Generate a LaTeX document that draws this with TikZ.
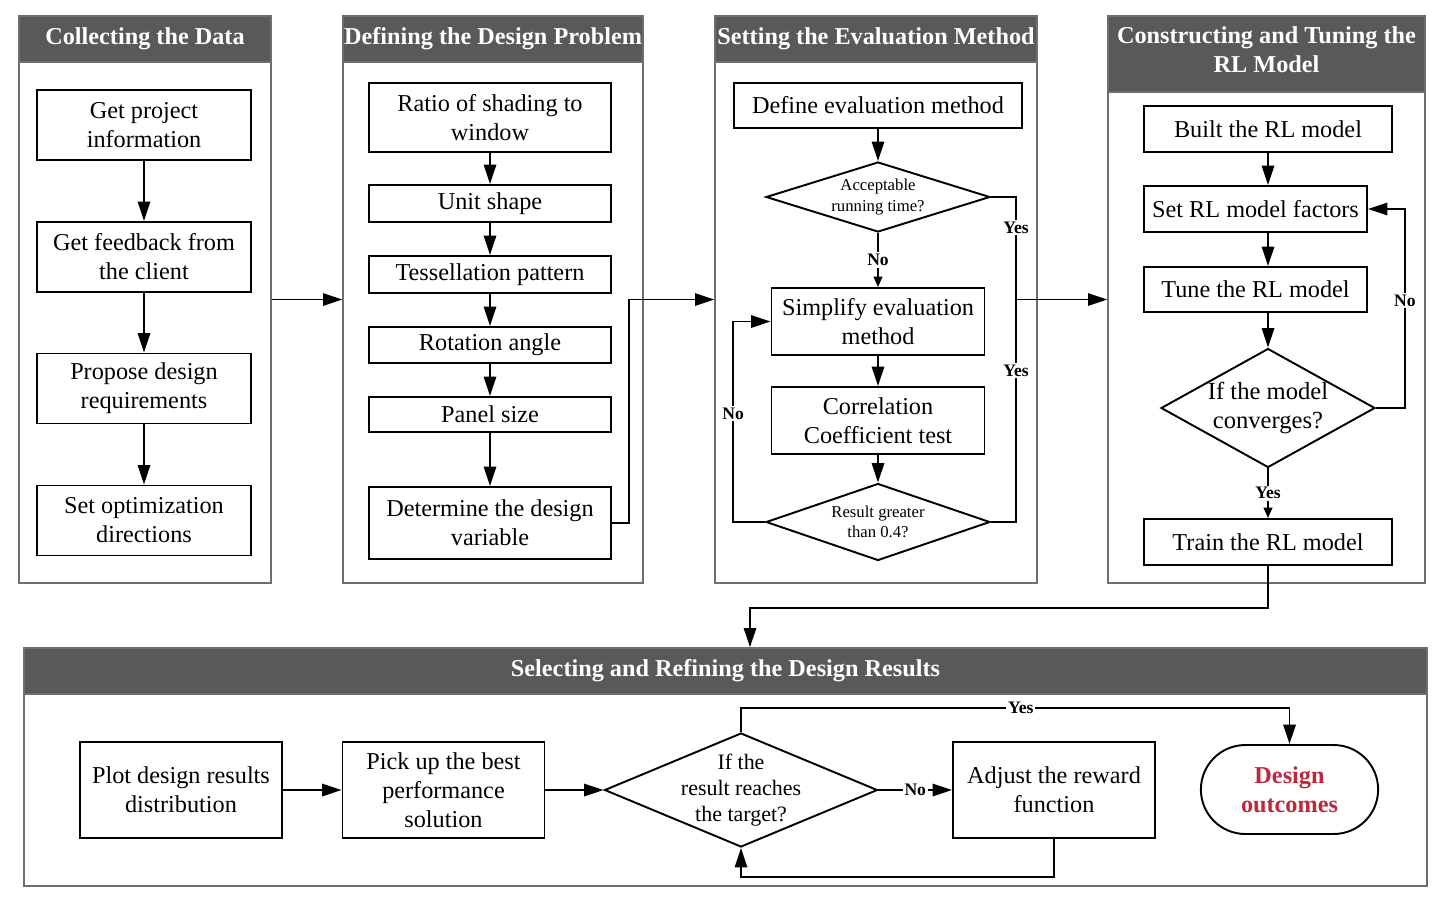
\documentclass[tikz,border=0pt]{standalone}
\usepackage{fontspec}
\setmainfont{Liberation Serif}
\usetikzlibrary{arrows.meta,shapes.geometric,shapes.misc}
\definecolor{hdgray}{RGB}{89,89,89}
\definecolor{lanegray}{RGB}{110,110,110}
\definecolor{outred}{RGB}{192,39,62}
\begin{document}
\begin{tikzpicture}[x=0.02cm, y=-0.02cm, >={Triangle[length=11pt,width=7pt]}, line width=1.1pt,
  lane/.style={draw=lanegray, line width=0.8pt, minimum height=11.34cm},
  lanehead/.style={draw=lanegray, line width=0.8pt, fill=hdgray, text=white, align=center, inner sep=0pt, font=\fontsize{13.8}{16.2}\selectfont\bfseries},
  box/.style={draw, align=center, inner sep=1pt, font=\fontsize{13.8}{16.5}\selectfont},
  dec/.style={draw, diamond, inner sep=0pt},
  dtext/.style={align=center, font=\fontsize{9.5}{11.7}\selectfont},
  lbl/.style={fill=white, inner sep=1pt, font=\fontsize{10}{12}\selectfont\bfseries},
  shortarrow/.style={-{Triangle[length=6pt,width=5pt]}}]
\useasboundingbox (0,0) rectangle (1450,897);
\node[lane, minimum width=5.04cm] (lane1) at (145,299.5) {};
\node[lanehead, minimum width=5.04cm, minimum height=0.92cm] (head1) at (145,39) {Collecting the Data};
\node[lane, minimum width=6cm] (lane2) at (493,299.5) {};
\node[lanehead, minimum width=6cm, minimum height=0.92cm] (head2) at (493,39) {Defining the Design Problem};
\node[lane, minimum width=6.44cm] (lane3) at (876,299.5) {};
\node[lanehead, minimum width=6.44cm, minimum height=0.92cm] (head3) at (876,39) {Setting the Evaluation Method};
\node[lane, minimum width=6.34cm] (lane4) at (1266.5,299.5) {};
\node[lanehead, minimum width=6.34cm, minimum height=1.52cm] (head4) at (1266.5,54) {Constructing and Tuning the\\RL Model\strut};
\node[lane, minimum width=28.06cm, minimum height=4.76cm] (lane5) at (725.5,767) {};
\node[lanehead, minimum width=28.06cm, minimum height=0.92cm] (head5) at (725.5,671) {Selecting and Refining the Design Results};

\node[box, minimum width=4.28cm, minimum height=1.4cm] (info) at (144,125) {Get project\\information};
\node[box, minimum width=4.28cm, minimum height=1.4cm] (feedback) at (144,257) {Get feedback from\\the client};
\node[box, minimum width=4.28cm, minimum height=1.4cm] (propose) at (144,388.5) {Propose design\\requirements};
\node[box, minimum width=4.28cm, minimum height=1.4cm] (setopt) at (144,520.5) {Set optimization\\directions};
\draw[->] (info) -- (feedback);
\draw[->] (feedback) -- (propose);
\draw[->] (propose) -- (setopt);

\node[box, minimum width=4.84cm, minimum height=1.38cm] (ratio) at (490,117.5) {Ratio of shading to\\window};
\node[box, minimum width=4.84cm, minimum height=0.74cm] (unit) at (490,203.5) {Unit shape};
\node[box, minimum width=4.84cm, minimum height=0.74cm] (tess) at (490,274.5) {Tessellation pattern};
\node[box, minimum width=4.84cm, minimum height=0.72cm] (rot) at (490,345) {Rotation angle};
\node[box, minimum width=4.84cm, minimum height=0.7cm] (panel) at (490,414.5) {Panel size};
\node[box, minimum width=4.84cm, minimum height=1.44cm] (determine) at (490,523) {Determine the design\\variable};
\draw[->] (ratio) -- (unit);
\draw[->] (unit) -- (tess);
\draw[->] (tess) -- (rot);
\draw[->] (rot) -- (panel);
\draw[->] (panel) -- (determine);

\node[box, minimum width=5.76cm, minimum height=0.9cm] (define) at (878,105.5) {Define evaluation method};
\node[dec, minimum width=4.48cm, minimum height=1.4cm, label={[dtext]center:{Acceptable\\running time?}}] (accept) at (878,197) {};
\node[box, minimum width=4.26cm, minimum height=1.34cm] (simplify) at (878,321.5) {Simplify evaluation\\method};
\node[box, minimum width=4.26cm, minimum height=1.34cm] (correl) at (878,420.5) {Correlation\\Coefficient test};
\node[dec, minimum width=4.48cm, minimum height=1.54cm, label={[dtext]center:{Result greater\\than 0.4?}}] (result) at (878,522) {};
\draw[->] (define) -- (accept);
\draw[shortarrow] (accept) -- node[lbl]{No} (simplify);
\draw[->] (simplify) -- (correl);
\draw[->] (correl) -- (result);
\draw[->] (result.west) -- ++(-32,0) |- node[lbl,pos=.27]{No} (simplify.west);
\coordinate (yes) at (1016,299.5);
\draw (accept.east) -| node[lbl,pos=.65]{Yes} (yes);
\draw (result.east) -| node[lbl,pos=.84]{Yes} (yes);

\node[box, minimum width=4.96cm, minimum height=0.92cm] (built) at (1268,129) {Built the RL model};
\node[box, minimum width=4.46cm, minimum height=0.92cm] (setrl) at (1255.5,209) {Set RL model factors};
\node[box, minimum width=4.46cm, minimum height=0.9cm] (tune) at (1255.5,289.5) {Tune the RL model};
\node[dec, minimum width=4.28cm, minimum height=2.38cm, label={[align=center, font=\fontsize{14}{17}\selectfont]center:{If the model\\converges?}}] (conv) at (1268,408) {};
\node[box, minimum width=4.96cm, minimum height=0.92cm] (train) at (1268,542) {Train the RL model};
\draw[->] (built.south) -- (built.south |- setrl.north);
\draw[->] (built.south |- setrl.south) -- (built.south |- tune.north);
\draw[->] (conv.north |- tune.south) -- (conv.north);
\draw[shortarrow] (conv) -- node[lbl]{Yes} (train);
\draw[->] (conv.east) -- ++(29,0) |- node[lbl,pos=.27]{No} (setrl.east);

\draw[->] (lane1) -- (lane2);
\draw[->] (determine.east) -- ++(17,0) |- (lane3.west);
\draw[->] (yes) -- (lane4.west);
\draw[->] (train.south) -- ++(0,42) -| ([xshift=0.49cm]lane5.north);

\node[box, minimum width=4.04cm, minimum height=1.92cm] (plot) at (181,790) {Plot design results\\distribution};
\node[box, minimum width=4.04cm, minimum height=1.92cm] (pick) at (443.5,790) {Pick up the best\\performance\\solution};
\node[dec, minimum width=5.46cm, minimum height=2.28cm, label={[align=center, font=\fontsize{12.5}{15}\selectfont]center:{If the\\result reaches\\the target?}}] (reach) at (741,790) {};
\node[box, minimum width=4.04cm, minimum height=1.92cm] (adjust) at (1054,790) {Adjust the reward\\function};
\node[draw, rounded rectangle, minimum width=3.78cm, minimum height=1.78cm, align=center, text=outred, font=\fontsize{13.8}{16.5}\selectfont\bfseries] (outcome) at (1289.5,789.5) {Design\\outcomes};
\draw[->] (plot) -- (pick);
\draw[->] (pick) -- (reach);
\draw[->] (reach) -- node[lbl]{No} (adjust);
\draw[->] (adjust.south) -- ++(0,38) -| (reach.south);
\draw[->] (reach.north) -- ++(0,-24) -| node[lbl,pos=.255]{Yes} (outcome.north);
\end{tikzpicture}
\end{document}
